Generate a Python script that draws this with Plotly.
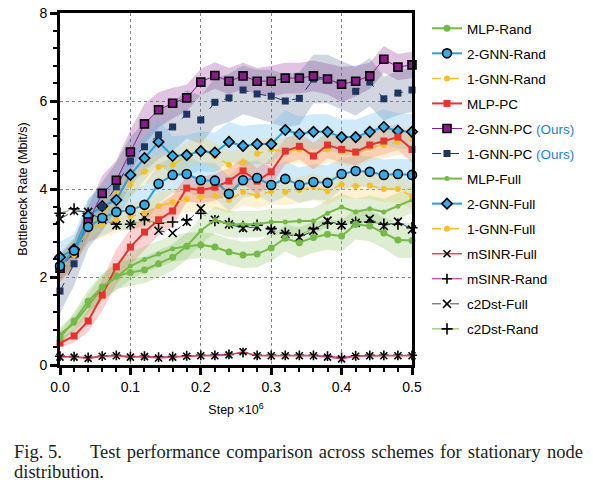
import plotly.graph_objects as go

steps = [0.00, 0.02, 0.04, 0.06, 0.08, 0.10, 0.12, 0.14, 0.16, 0.18, 0.20, 0.22, 0.24,
         0.26, 0.28, 0.30, 0.32, 0.34, 0.36, 0.38, 0.40, 0.42, 0.44, 0.46, 0.48, 0.50]

mlp_rand = [0.62, 1.00, 1.45, 1.77, 2.02, 2.10, 2.16, 2.30, 2.45, 2.70, 2.73, 2.68, 2.57,
            2.50, 2.52, 2.66, 2.88, 2.78, 2.90, 2.97, 2.93, 3.20, 3.16, 3.00, 2.84, 2.83]
gnn2_rand = [2.25, 2.60, 3.14, 3.34, 3.48, 3.52, 3.64, 4.12, 4.32, 4.34, 4.20, 4.19, 3.89,
             4.20, 4.25, 4.09, 4.23, 4.09, 4.16, 4.14, 4.34, 4.41, 4.39, 4.32, 4.34, 4.32]
gnn1_rand = [2.20, 2.50, 3.10, 3.20, 3.30, 3.38, 3.45, 3.61, 3.70, 3.77, 3.82, 3.85, 3.75,
             3.93, 3.85, 3.95, 3.93, 3.98, 4.05, 3.95, 4.10, 4.07, 4.08, 4.00, 4.00, 3.84]
mlp_pc = [0.50, 0.66, 1.00, 1.59, 2.23, 2.68, 3.02, 3.30, 3.50, 4.02, 3.97, 4.04, 4.18,
          4.41, 4.18, 4.39, 4.86, 4.97, 4.75, 5.00, 4.90, 4.84, 5.00, 5.09, 5.18, 4.90]
gnn2_pc = [2.20, 2.55, 3.25, 3.90, 4.20, 4.84, 5.48, 5.80, 5.95, 6.07, 6.43, 6.58, 6.45,
           6.57, 6.45, 6.45, 6.52, 6.52, 6.57, 6.50, 6.38, 6.45, 6.57, 6.95, 6.77, 6.82]
gnn1_pc = [1.68, 2.30, 3.20, 3.60, 4.05, 4.64, 4.96, 5.23, 5.41, 5.70, 5.57, 5.97, 6.07,
           6.25, 6.16, 6.11, 6.00, 6.06, 6.50, 6.50, 6.36, 6.22, 6.43, 6.05, 6.18, 6.25]
mlp_full = [0.70, 0.95, 1.35, 1.75, 2.00, 2.25, 2.40, 2.52, 2.64, 2.70, 3.05, 3.30, 3.20,
            3.20, 3.20, 3.25, 3.25, 3.27, 3.27, 3.45, 3.59, 3.48, 3.55, 3.48, 3.61, 3.75]
gnn2_full = [2.45, 2.63, 3.39, 3.61, 3.75, 4.32, 4.70, 5.07, 4.75, 4.77, 4.86, 4.83, 5.07,
             4.98, 5.02, 5.02, 5.34, 5.25, 5.30, 5.30, 5.18, 5.18, 5.30, 5.41, 5.32, 5.30]
gnn1_full = [2.20, 2.55, 3.15, 3.40, 3.90, 4.10, 4.40, 4.50, 4.55, 4.75, 4.90, 4.75, 4.55,
             4.60, 4.80, 4.90, 4.85, 4.90, 4.75, 4.90, 4.85, 4.80, 4.95, 5.00, 5.07, 5.14]
msinr_full = [0.18, 0.18, 0.15, 0.20, 0.21, 0.18, 0.19, 0.16, 0.18, 0.20, 0.21, 0.21, 0.23,
              0.30, 0.21, 0.21, 0.21, 0.21, 0.21, 0.18, 0.14, 0.20, 0.21, 0.21, 0.21, 0.21]
msinr_rand = [0.20, 0.19, 0.17, 0.20, 0.22, 0.19, 0.20, 0.18, 0.19, 0.21, 0.22, 0.22, 0.24,
              0.28, 0.22, 0.22, 0.22, 0.22, 0.22, 0.20, 0.17, 0.21, 0.22, 0.22, 0.22, 0.22]
c2dst_full = [3.32, 3.50, 3.48, 3.30, 3.18, 3.20, 3.36, 3.05, 3.00, 3.25, 3.56, 3.30, 3.20,
              3.11, 3.14, 3.06, 2.98, 2.90, 3.05, 3.28, 3.18, 3.23, 3.32, 3.16, 3.26, 3.08]
c2dst_rand = [3.45, 3.55, 3.45, 3.30, 3.20, 3.20, 3.30, 3.22, 3.25, 3.30, 3.45, 3.28, 3.22,
              3.15, 3.18, 3.10, 3.00, 2.95, 3.10, 3.22, 3.20, 3.25, 3.25, 3.20, 3.20, 3.12]

# half-width of the shaded bands
sd_mlp_rand = [0.15, 0.2, 0.25, 0.3, 0.3, 0.3, 0.3, 0.3, 0.3, 0.3, 0.3, 0.3, 0.3,
               0.3, 0.3, 0.3, 0.3, 0.35, 0.35, 0.35, 0.35, 0.35, 0.35, 0.35, 0.4, 0.4]
sd_gnn2_rand = [0.3, 0.3, 0.35, 0.4, 0.4, 0.45, 0.45, 0.45, 0.4, 0.4, 0.4, 0.4, 0.4,
                0.4, 0.4, 0.4, 0.4, 0.4, 0.4, 0.4, 0.35, 0.35, 0.35, 0.35, 0.35, 0.35]
sd_gnn1_rand = [0.3, 0.3, 0.3, 0.3, 0.3, 0.3, 0.3, 0.3, 0.3, 0.3, 0.3, 0.3, 0.3,
                0.3, 0.3, 0.3, 0.3, 0.3, 0.3, 0.3, 0.3, 0.3, 0.3, 0.3, 0.3, 0.3]
sd_mlp_pc = [0.1, 0.15, 0.25, 0.35, 0.4, 0.4, 0.4, 0.35, 0.35, 0.3, 0.3, 0.3, 0.3,
             0.3, 0.3, 0.3, 0.3, 0.3, 0.3, 0.3, 0.3, 0.3, 0.3, 0.3, 0.3, 0.3]
sd_gnn2_pc = [0.3, 0.3, 0.35, 0.4, 0.45, 0.5, 0.45, 0.4, 0.35, 0.3, 0.3, 0.3, 0.3,
              0.3, 0.3, 0.35, 0.35, 0.35, 0.35, 0.35, 0.4, 0.35, 0.3, 0.3, 0.3, 0.3]
sd_gnn1_pc = [0.5, 0.5, 0.55, 0.55, 0.55, 0.55, 0.55, 0.55, 0.55, 0.55, 0.55, 0.55, 0.55,
              0.55, 0.55, 0.6, 0.6, 0.6, 0.55, 0.55, 0.55, 0.55, 0.55, 0.5, 0.5, 0.5]
sd_mlp_full = [0.15, 0.2, 0.25, 0.3, 0.3, 0.3, 0.3, 0.3, 0.3, 0.3, 0.3, 0.3, 0.3,
               0.3, 0.3, 0.3, 0.3, 0.3, 0.3, 0.3, 0.3, 0.3, 0.3, 0.3, 0.3, 0.3]
sd_gnn2_full = [0.35, 0.35, 0.4, 0.45, 0.45, 0.5, 0.5, 0.5, 0.45, 0.45, 0.45, 0.45, 0.45,
                0.45, 0.45, 0.45, 0.45, 0.4, 0.4, 0.4, 0.4, 0.4, 0.4, 0.4, 0.4, 0.4]
sd_gnn1_full = [0.3, 0.3, 0.3, 0.3, 0.3, 0.3, 0.3, 0.3, 0.3, 0.3, 0.3, 0.3, 0.3,
                0.3, 0.3, 0.3, 0.3, 0.3, 0.3, 0.3, 0.3, 0.3, 0.3, 0.3, 0.3, 0.3]

ours = " <span style='color:#2a7de1'>(Ours)</span>"

green = "#76b947"
blue = "#2a9fd8"
yellow = "#f5bf2a"
red = "#e8322f"
purple = "#8b1a8c"
navy = "#1e3560"

# name, y, band, band colour, line colour, dash, width, symbol, marker fill, marker outline, size
series = [
    ("MLP-Rand", mlp_rand, sd_mlp_rand, "rgba(130,190,90,0.28)", green, "solid", 2, "circle", green, green, 7),
    ("2-GNN-Rand", gnn2_rand, sd_gnn2_rand, "rgba(100,185,235,0.30)", blue, "solid", 2, "circle", "#35ace6", "black", 9),
    ("1-GNN-Rand", gnn1_rand, sd_gnn1_rand, "rgba(250,205,80,0.25)", yellow, "dash", 1.5, "circle", yellow, yellow, 6),
    ("MLP-PC", mlp_pc, sd_mlp_pc, "rgba(240,90,90,0.28)", red, "solid", 2, "square", red, red, 7),
    ("2-GNN-PC" + ours, gnn2_pc, sd_gnn2_pc, "rgba(160,70,165,0.32)", purple, "solid", 1, "square", purple, "black", 8),
    ("1-GNN-PC" + ours, gnn1_pc, sd_gnn1_pc, "rgba(70,90,130,0.25)", navy, "dash", 1, "square", navy, navy, 7),
    ("MLP-Full", mlp_full, sd_mlp_full, "rgba(130,190,90,0.25)", green, "solid", 2, "circle", green, green, 5),
    ("2-GNN-Full", gnn2_full, sd_gnn2_full, "rgba(100,185,235,0.30)", blue, "solid", 2, "diamond", "#35ace6", "black", 8),
    ("1-GNN-Full", gnn1_full, sd_gnn1_full, "rgba(250,205,80,0.25)", yellow, "dash", 1.5, "circle", yellow, yellow, 6),
    ("mSINR-Full", msinr_full, None, None, "#e24a60", "solid", 1.5, "x-thin", "black", "black", 7),
    ("mSINR-Rand", msinr_rand, None, None, "#b0189f", "solid", 1, "cross-thin", "black", "black", 7),
    ("c2Dst-Full", c2dst_full, None, None, "#3b4a66", "dash", 1, "x-thin", "black", "black", 8),
    ("c2Dst-Rand", c2dst_rand, None, None, green, "dash", 1, "cross-thin", "black", "black", 8),
]

fig = go.Figure()

for name, y, sd, band, *_ in series:
    if sd is None:
        continue
    hi = [a + b for a, b in zip(y, sd)]
    lo = [a - b for a, b in zip(y, sd)]
    fig.add_trace(go.Scatter(x=steps + steps[::-1], y=hi + lo[::-1], fill="toself",
                             fillcolor=band, line=dict(width=0), mode="lines",
                             showlegend=False, hoverinfo="skip"))

# draw bottom series first so 2-GNN-PC ends up on top
for rank, (name, y, sd, band, lc, dash, lw, sym, mfill, mline, ms) in reversed(list(enumerate(series))):
    thin = sym.endswith("thin")
    fig.add_trace(go.Scatter(
        x=steps, y=y, name=name, mode="lines+markers", legendrank=rank, legendgroup=str(rank),
        cliponaxis=False,
        line=dict(color=lc, width=lw, dash=dash),
        marker=dict(symbol=sym, size=ms, color=mfill,
                    line=dict(color=mline, width=1.6 if thin or mline == "black" else 0)),
    ))

# page body has an 8px margin, so the figure is drawn at (8, 8) on screen.
# helpers turn screen pixels into paper coords (plot area is 352 x 352 px)
def px_x(p):
    return (p - 60) / 352

def px_y(p):
    return (365 - p) / 352

fig.update_layout(
    width=585, height=483,
    margin=dict(l=52, r=181, t=5, b=126, autoexpand=False),
    paper_bgcolor="white", plot_bgcolor="white",
    font=dict(family="Liberation Sans, Arial", size=13, color="black"),
    legend=dict(x=px_x(427), y=1.0, xanchor="left", yanchor="top",
                font=dict(size=13.5), tracegroupgap=4.5, itemwidth=30),
)

cap_font = dict(family="Liberation Serif, Times New Roman", size=18.5, color="#222")
hs = " \u200a"  # stretch the word gaps a little, the caption is justified
fig.add_annotation(text="Fig. 5.", x=px_x(12), y=px_y(452), xref="paper", yref="paper",
                   xanchor="left", yanchor="middle", showarrow=False, font=cap_font)
fig.add_annotation(text=hs.join("Test performance comparison across schemes for stationary node".split()),
                   x=px_x(88), y=px_y(452), xref="paper", yref="paper",
                   xanchor="left", yanchor="middle", showarrow=False, font=cap_font)
fig.add_annotation(text="distribution.", x=px_x(12), y=px_y(472), xref="paper", yref="paper",
                   xanchor="left", yanchor="middle", showarrow=False, font=cap_font)

fig.update_xaxes(range=[0, 0.5], dtick=0.1, tickformat=".1f", automargin=False,
                 showline=True, linewidth=3, linecolor="black", mirror=True,
                 ticks="outside", ticklen=7, tickwidth=3, tickcolor="black",
                 minor=dict(dtick=0.02, ticks="outside", ticklen=4, tickwidth=2, tickcolor="black", showgrid=False),
                 showgrid=True, gridcolor="#888", gridwidth=1, griddash="dot",
                 zeroline=False, tickfont=dict(size=14), ticklabeloverflow="allow",
                 title=dict(text="Step ×10<sup>6</sup>", font=dict(size=12.5), standoff=12))
fig.update_yaxes(range=[0, 8], dtick=2, automargin=False,
                 showline=True, linewidth=3, linecolor="black", mirror=True,
                 ticks="outside", ticklen=7, tickwidth=3, tickcolor="black",
                 minor=dict(dtick=0.4, ticks="outside", ticklen=4, tickwidth=2, tickcolor="black", showgrid=False),
                 showgrid=True, gridcolor="#888", gridwidth=1, griddash="dot",
                 zeroline=False, tickfont=dict(size=14), ticklabeloverflow="allow",
                 title=dict(text="Bottleneck Rate (Mbit/s)", font=dict(size=12.5), standoff=10))

fig.write_html("out.html")
